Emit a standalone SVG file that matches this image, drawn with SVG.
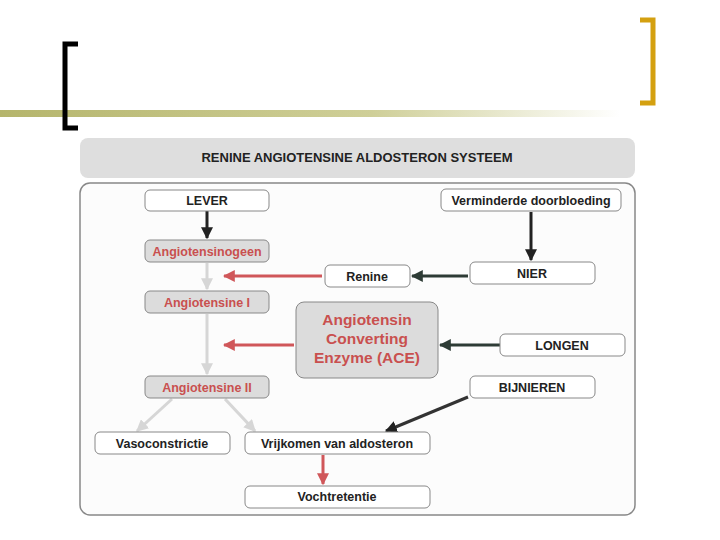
<svg xmlns="http://www.w3.org/2000/svg" width="720" height="540" viewBox="0 0 720 540">
<defs>
<linearGradient id="g" x1="0" x2="1"><stop offset="0" stop-color="#b5b56c"/><stop offset="0.6" stop-color="#cfcf98"/><stop offset="1" stop-color="#ffffff"/></linearGradient>
<marker id="mk" viewBox="0 0 10 10" refX="9" refY="5" markerWidth="4" markerHeight="4" orient="auto"><path d="M0,0L10,5L0,10z" fill="#222"/></marker>
<marker id="mr" viewBox="0 0 10 10" refX="9" refY="5" markerWidth="4" markerHeight="4" orient="auto"><path d="M0,0L10,5L0,10z" fill="#d0575a"/></marker>
<marker id="mg" viewBox="0 0 10 10" refX="9" refY="5" markerWidth="4" markerHeight="4" orient="auto"><path d="M0,0L10,5L0,10z" fill="#d6d6d6"/></marker>
<marker id="md" viewBox="0 0 10 10" refX="9" refY="5" markerWidth="4" markerHeight="4" orient="auto"><path d="M0,0L10,5L0,10z" fill="#2d3b35"/></marker>
</defs>
<style>
.b{fill:#fff;stroke:#888;stroke-width:1}
.gb{fill:#dcdcdc;stroke:#888;stroke-width:1}
text{font-family:"Liberation Sans",Arial,sans-serif;font-weight:bold;font-size:12.5px;text-anchor:middle}
.k{fill:#222}
.r{fill:#c9504f}
.big{font-size:15.5px}
.title{font-size:13px}
</style>
<rect x="0" y="110" width="620" height="7" fill="url(#g)"/>
<path d="M78,44H65V128H78" fill="none" stroke="#000" stroke-width="5"/>
<path d="M640,20H653V103H640" fill="none" stroke="#d4a010" stroke-width="5"/>
<rect x="80" y="138" width="555" height="40" rx="8" fill="#dedede"/>
<text x="357" y="162" class="k title">RENINE ANGIOTENSINE ALDOSTERON SYSTEEM</text>
<rect x="80" y="183" width="555" height="332" rx="10" fill="#fcfcfc" stroke="#888" stroke-width="1.5"/>
<g id="connectors" fill="none" stroke-width="3">
<line x1="207" y1="210" x2="207" y2="238" stroke="#222" marker-end="url(#mk)"/>
<line x1="531" y1="212" x2="531" y2="260" stroke="#222" marker-end="url(#mk)"/>
<line x1="207" y1="263" x2="207" y2="289" stroke="#d6d6d6" marker-end="url(#mg)"/>
<line x1="207" y1="314" x2="207" y2="374" stroke="#d6d6d6" marker-end="url(#mg)"/>
<line x1="322" y1="276" x2="224" y2="276" stroke="#d0575a" marker-end="url(#mr)"/>
<line x1="468" y1="276" x2="412" y2="276" stroke="#2d3b35" marker-end="url(#md)"/>
<line x1="294" y1="345" x2="224" y2="345" stroke="#d0575a" marker-end="url(#mr)"/>
<line x1="500" y1="345" x2="440" y2="345" stroke="#2d3b35" marker-end="url(#md)"/>
<line x1="172" y1="399" x2="137" y2="431" stroke="#d6d6d6" marker-end="url(#mg)"/>
<line x1="225" y1="399" x2="255" y2="431" stroke="#d6d6d6" marker-end="url(#mg)"/>
<line x1="468" y1="397" x2="386" y2="431" stroke="#333" marker-end="url(#mk)"/>
<line x1="323" y1="455" x2="323" y2="484" stroke="#d0575a" marker-end="url(#mr)"/>
</g>
<g id="lever"><rect class="b" x="145" y="190" width="124" height="21" rx="5"/><text x="207" y="205" class="k">LEVER</text></g>
<g id="verminderde"><rect class="b" x="441" y="189" width="180" height="22" rx="5"/><text x="531" y="205" class="k">Verminderde doorbloeding</text></g>
<g id="angiotensinogeen"><rect class="gb" x="145" y="240" width="124" height="22" rx="5"/><text x="207" y="256" class="r">Angiotensinogeen</text></g>
<g id="renine"><rect class="b" x="325" y="265" width="85" height="22" rx="5"/><text x="367" y="281" class="k">Renine</text></g>
<g id="nier"><rect class="b" x="470" y="262" width="125" height="22" rx="5"/><text x="532" y="278" class="k">NIER</text></g>
<g id="angiotensine1"><rect class="gb" x="145" y="291" width="124" height="22" rx="5"/><text x="207" y="307" class="r">Angiotensine I</text></g>
<g id="ace"><rect class="gb" x="296" y="302" width="142" height="76" rx="8"/><text x="367" y="325" class="r big">Angiotensin</text><text x="367" y="344" class="r big">Converting</text><text x="367" y="363" class="r big">Enzyme (ACE)</text></g>
<g id="longen"><rect class="b" x="500" y="334" width="125" height="22" rx="5"/><text x="562" y="350" class="k">LONGEN</text></g>
<g id="angiotensine2"><rect class="gb" x="145" y="376" width="124" height="22" rx="5"/><text x="207" y="392" class="r">Angiotensine II</text></g>
<g id="bijnieren"><rect class="b" x="470" y="376" width="125" height="22" rx="5"/><text x="532" y="392" class="k">BIJNIEREN</text></g>
<g id="vaso"><rect class="b" x="95" y="432" width="135" height="22" rx="5"/><text x="162" y="448" class="k">Vasoconstrictie</text></g>
<g id="vrijkomen"><rect class="b" x="245" y="432" width="185" height="22" rx="5"/><text x="337" y="448" class="k">Vrijkomen van aldosteron</text></g>
<g id="vocht"><rect class="b" x="245" y="486" width="185" height="22" rx="5"/><text x="337" y="501" class="k">Vochtretentie</text></g>
</svg>
